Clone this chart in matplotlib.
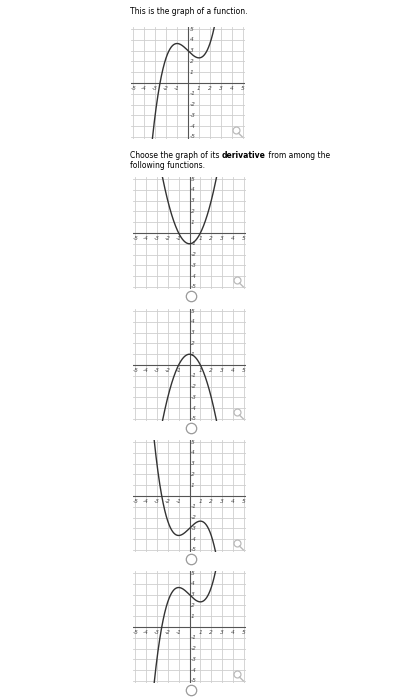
import matplotlib
matplotlib.use("Agg")
import matplotlib.pyplot as plt
from matplotlib.patches import Circle
import numpy as np

W, H = 415, 700

# polynomial coefficients (highest power first)
func_coef = [1/3, 0, -1, 3]          # shown function
option_coefs = [
    [1, 0, -1],                        # option 1
    [-1, 0, 1],                        # option 2
    [-1/3, 0, 1, -3],                  # option 3
    [1/3, 0, -1, 3],                   # option 4
]
ticks = [-5, -4, -3, -2, -1, 1, 2, 3, 4, 5]

# plot boxes in pixels: left, top, right, bottom
func_box = (131, 27, 245, 139)
option_boxes = [(133, 177, 246, 289), (133, 309, 246, 421),
                (133, 440, 246, 552), (133, 571, 246, 683)]


def add_box(fig, box):
    l, t, r, b = box
    return fig.add_axes([l / W, 1 - b / H, (r - l) / W, (b - t) / H])


def draw_graph(ax, coef):
    ax.set_xlim(-5.2, 5.2)
    ax.set_ylim(-5.2, 5.2)
    for v in range(-5, 6):
        ax.axvline(v, color="#cfcfcf", lw=0.6, zorder=0)
        ax.axhline(v, color="#cfcfcf", lw=0.6, zorder=0)
    ax.axhline(0, color="#555555", lw=0.8, zorder=1)
    ax.axvline(0, color="#555555", lw=0.8, zorder=1)
    for t in ticks:
        ax.text(t, -0.25, str(t), fontsize=4.2, style="italic", ha="center", va="top", color="#444444")
        ax.text(0.15, t, str(t), fontsize=4.2, style="italic", ha="left", va="center", color="#444444")
    xs = np.linspace(-5.2, 5.2, 800)
    ys = np.polyval(coef, xs)
    ys = np.where(np.abs(ys) > 5.2, np.nan, ys)
    ax.plot(xs, ys, color="#333333", lw=1.0, zorder=3)
    # magnifier icon
    ax.plot([4.35], [-4.4], marker="o", ms=5, mfc="none", mec="#bbbbbb", mew=0.9)
    ax.plot([4.6, 4.95], [-4.65, -5.0], color="#bbbbbb", lw=1.0)
    ax.set_axis_off()


fig = plt.figure(figsize=(W / 100, H / 100), dpi=100)
fig.text(130 / W, 1 - 11 / H, "This is the graph of a function.", fontsize=5.5, va="center")
y2 = 1 - 156 / H
t1 = fig.text(130 / W, y2, "Choose the graph of its ", fontsize=5.5, va="center")
fig.canvas.draw()
r = fig.canvas.get_renderer()
x1 = t1.get_window_extent(r).x1
t2 = fig.text(x1 / W, y2, "derivative", fontsize=5.5, va="center", weight="bold")
x2 = t2.get_window_extent(r).x1
fig.text(x2 / W, y2, " from among the", fontsize=5.5, va="center")
fig.text(130 / W, 1 - 166 / H, "following functions.", fontsize=5.5, va="center")

draw_graph(add_box(fig, func_box), func_coef)
radio = fig.add_axes([0, 0, 1, 1])
radio.set_xlim(0, W)
radio.set_ylim(H, 0)
radio.set_axis_off()
for coef, box in zip(option_coefs, option_boxes):
    draw_graph(add_box(fig, box), coef)
    cx = (box[0] + box[2]) / 2 + 1
    radio.plot([cx], [box[3] + 7], marker="o", ms=7.5, mfc="white", mec="#999999", mew=0.9)

fig.savefig("out.png", dpi=100)
